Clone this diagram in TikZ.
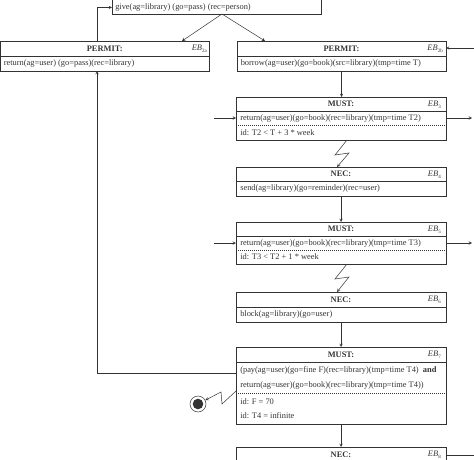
\documentclass[tikz,border=0pt]{standalone}
\usepackage{fontspec}
\setmainfont{Liberation Serif}
\usetikzlibrary{arrows}

\newcommand{\ebsub}[1]{\textit{EB}\raisebox{-0.6ex}{\fontsize{5}{5}\selectfont #1}}

\tikzset{
  ebbox/.style={draw, rectangle, anchor=north west, minimum width=210pt, inner sep=0pt, outer sep=0pt},
  headtxt/.style={font=\fontsize{8.4}{10}\selectfont\bfseries, inner sep=0pt},
  rowtxt/.style={anchor=west, inner sep=0pt},
  ebtxt/.style={anchor=east, inner sep=0pt},
  rowsep/.style={dash pattern=on 1pt off 1pt}
}

\begin{document}
\begin{tikzpicture}[x=1pt, y=-1pt, >=stealth, line width=0.5pt, color=black!80, font=\fontsize{8.4}{10}\selectfont]
   \useasboundingbox (0,0) rectangle (474,460);
   \clip (0,0) rectangle (474,460);

   % boxes
   \node[ebbox, minimum width=209pt, minimum height=30pt] (give) at (112,-16) {};
   \node[ebbox, minimum width=208.5pt, minimum height=30pt] (eb2a) at (0.5,41) {};
   \node[ebbox, minimum width=209pt, minimum height=30pt] (eb2b) at (237,41) {};
   \node[ebbox, minimum height=43pt] (eb3) at (236,97) {};
   \node[ebbox, minimum height=29pt] (eb4) at (236,167) {};
   \node[ebbox, minimum height=42pt] (eb5) at (236,222) {};
   \node[ebbox, minimum height=30pt] (eb6) at (236,292) {};
   \node[ebbox, minimum height=77pt] (eb7) at (236,347) {};
   \node[ebbox, minimum height=30pt] (eb8) at (236,447) {};

   % header and row lines
   \draw (0.5,56) -- (209,56);
   \draw (237,56) -- (446,56);
   \draw (236,111) -- (446,111);
   \draw[rowsep] (236,125) -- (446,125);
   \draw (236,181) -- (446,181);
   \draw (236,236) -- (446,236);
   \draw[rowsep] (236,250) -- (446,250);
   \draw (236,307) -- (446,307);
   \draw (236,362) -- (446,362);
   \draw[rowsep] (236,393) -- (446,393);
   \draw (236,462) -- (446,462);

   % headers
   \node[headtxt] (h2a) at (104.75,48.5) {PERMIT:};
   \node[ebtxt] (l2a) at (207,49) {\ebsub{2a}};
   \node[headtxt] (h2b) at (341.5,48.5) {PERMIT:};
   \node[ebtxt] (l2b) at (443,49) {\ebsub{2b}};
   \node[headtxt] (h3) at (341,104) {MUST:};
   \node[ebtxt] (l3) at (441,104.5) {\ebsub{3}};
   \node[headtxt] (h4) at (341,174) {NEC:};
   \node[ebtxt] (l4) at (441,174.5) {\ebsub{4}};
   \node[headtxt] (h5) at (341,229) {MUST:};
   \node[ebtxt] (l5) at (441,229.5) {\ebsub{5}};
   \node[headtxt] (h6) at (341,299.5) {NEC:};
   \node[ebtxt] (l6) at (441,300) {\ebsub{6}};
   \node[headtxt] (h7) at (341,354.5) {MUST:};
   \node[ebtxt] (l7) at (441,355) {\ebsub{7}};
   \node[headtxt] (h8) at (341,454.5) {NEC:};
   \node[ebtxt] (l8) at (441,455) {\ebsub{8}};

   % rows
   \node[rowtxt] (rg) at (115,7) {give(ag=library) (go=pass) (rec=person)};
   \node[rowtxt] (r2a) at (3.5,63.5) {return(ag=user) (go=pass)(rec=library)};
   \node[rowtxt] (r2b) at (240.5,63.5) {borrow(ag=user)(go=book)(src=library)(tmp=time T)};
   \node[rowtxt] (r3a) at (240,118) {return(ag=user)(go=book)(rec=library)(tmp=time T2)};
   \node[rowtxt] (r3b) at (240,132.5) {id: T2 < T + 3 * week};
   \node[rowtxt] (r4) at (240,188.5) {send(ag=library)(go=reminder)(rec=user)};
   \node[rowtxt] (r5a) at (240,243) {return(ag=user)(go=book)(rec=library)(tmp=time T3)};
   \node[rowtxt] (r5b) at (240,257) {id: T3 < T2 + 1 * week};
   \node[rowtxt] (r6) at (240,314.5) {block(ag=library)(go=user)};
   \node[rowtxt] (r7a) at (240,370) {(pay(ag=user)(go=fine F)(rec=library)(tmp=time T4) \ \textbf{and}};
   \node[rowtxt] (r7b) at (240,385.5) {return(ag=user)(go=book)(rec=library)(tmp=time T4))};
   \node[rowtxt] (r7c) at (240,401.5) {id: F = 70};
   \node[rowtxt] (r7d) at (240,416) {id: T4 = infinite};

   % final state
   \node[circle, draw, minimum size=16pt, inner sep=0pt] (target) at (198,404) {};
   \fill (target.center) circle (5.3);

   % connectors
   \coordinate (g) at (222,14);
   \coordinate (p2a) at (182,41);
   \coordinate (p2b) at (265,41);
   \draw[->] (g) -- (p2a);
   \draw[->] (g) -- (p2b);

   \coordinate (a1) at (97,41);
   \coordinate (a2) at (112,7.5);
   \draw[->] (a1) |- (a2);
   \coordinate (b1) at (236,373);
   \coordinate (b2) at (97,71);
   \draw[->] (b1) -| (b2);

   \draw[->] (eb2b.south) -- (eb2b.south |- eb3.north);
   \draw[->] (eb3.south) ++(6,0) -- ++(-12,15) -- ++(14,-2) -- ++(-12,14);
   \draw[->] (eb4) -- (eb5);
   \draw[->] (eb5.south) ++(6,0) -- ++(-12,15) -- ++(14,-2) -- ++(-12,15);
   \draw[->] (eb6) -- (eb7);
   \draw[->] (eb7) -- (eb8);
   \draw[->] (eb7.west) ++(0,5.5) -- ++(-14,13) -- ++(-1,-12) -- (target);

   % side arrows
   \coordinate (in2b) at (474,48);
   \draw[->] (in2b) -- (in2b -| eb2b.east);
   \coordinate (in3) at (214,118);
   \draw[->] (in3) -- (in3 -| eb3.west);
   \coordinate (out3) at (472,118);
   \draw[->] (out3 -| eb3.east) -- (out3);
   \coordinate (in5) at (214,243);
   \draw[->] (in5) -- (in5 -| eb5.west);
   \coordinate (out5) at (472,243);
   \draw[->] (out5 -| eb5.east) -- (out5);
   \coordinate (out8) at (474,455);
   \draw (out8 -| eb8.east) -- (out8);
\end{tikzpicture}
\end{document}
